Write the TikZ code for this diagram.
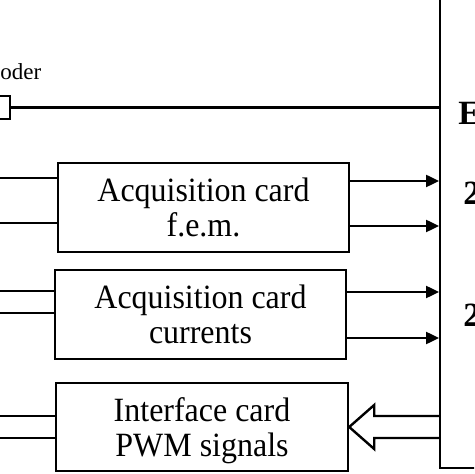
\documentclass[tikz,border=0pt]{standalone}
\usepackage{fontspec}
\setmainfont{Liberation Serif}
\newfontfamily\cardfont[FakeStretch=0.94]{Liberation Serif}
\usetikzlibrary{arrows.meta,positioning}

\tikzset{
  card/.style={draw, line width=1.2pt, minimum width=145.5pt, minimum height=44.5pt,
    align=center, inner sep=0pt, font=\cardfont\fontsize{17}{17.5}\selectfont},
  sig/.style={line width=1.2pt, -{Triangle[length=6.5pt,width=6pt]}},
  wire/.style={line width=1.2pt},
  mark label/.style={anchor=base west, inner sep=0pt, font=\fontsize{17}{18}\selectfont\bfseries}
}

\begin{document}
\begin{tikzpicture}[x=0.5pt,y=-0.5pt]
\clip (0,0) rectangle (474,474);

% controller block on the right
\node[draw, line width=1.2pt, minimum width=40pt, minimum height=245pt, anchor=south west,
  inner sep=0pt] (ecu) at (439,469) {};
\node[mark label] (elab) at (458,125) {E};
\node[mark label] (two1) at (463,205) {2};
\node[mark label] (two2) at (463,327) {2};

% encoder
\node[draw, line width=1.2pt, minimum width=10pt, minimum height=11.5pt, inner sep=0pt] (enc) at (0,107.5) {};
\node[anchor=base west, inner sep=0pt, font=\fontsize{11.5}{13}\selectfont] (enclab) at (0,80) {oder};
\draw[wire] (enc.east) -- (enc.east -| ecu.west);

% cards
\node[card] (fem) at (203.5,207.5) {Acquisition card\\f.e.m.};
\node[card] (cur) at (200.5,314.5) {Acquisition card\\currents};
\node[card, minimum width=146pt, minimum height=44pt] (pwm) at (202,427) {Interface card\\\smash{PWM signals}};

\coordinate (left) at (0,0);

% inputs from the left
\draw[wire] ([yshift=14.75pt]fem.west -| left) -- ([yshift=14.75pt]fem.west);
\draw[wire] ([yshift=-7.75pt]fem.west -| left) -- ([yshift=-7.75pt]fem.west);
\draw[wire] ([yshift=11.75pt]cur.west -| left) -- ([yshift=11.75pt]cur.west);
\draw[wire] ([yshift=0.75pt]cur.west -| left) -- ([yshift=0.75pt]cur.west);
\draw[wire] ([yshift=5.5pt]pwm.west -| left) -- ([yshift=5.5pt]pwm.west);
\draw[wire] ([yshift=-5.5pt]pwm.west -| left) -- ([yshift=-5.5pt]pwm.west);

% outputs to the controller
\draw[sig] ([yshift=13.25pt]fem.east) -- ([yshift=13.25pt]fem.east -| ecu.west);
\draw[sig] ([yshift=-9.25pt]fem.east) -- ([yshift=-9.25pt]fem.east -| ecu.west);
\draw[sig] ([yshift=11.25pt]cur.east) -- ([yshift=11.25pt]cur.east -| ecu.west);
\draw[sig] ([yshift=-11.75pt]cur.east) -- ([yshift=-11.75pt]cur.east -| ecu.west);

% hollow arrow back to the interface card
\draw[wire, line join=miter] ([yshift=5.5pt]pwm.east -| ecu.west) -- ([xshift=12.5pt,yshift=5.5pt]pwm.east)
  -- ++(0pt,5.5pt) -- (pwm.east) -- ++(12.5pt,-11pt) -- ++(0pt,5.5pt)
  -- ([yshift=-5.5pt]pwm.east -| ecu.west);

\end{tikzpicture}
\end{document}
